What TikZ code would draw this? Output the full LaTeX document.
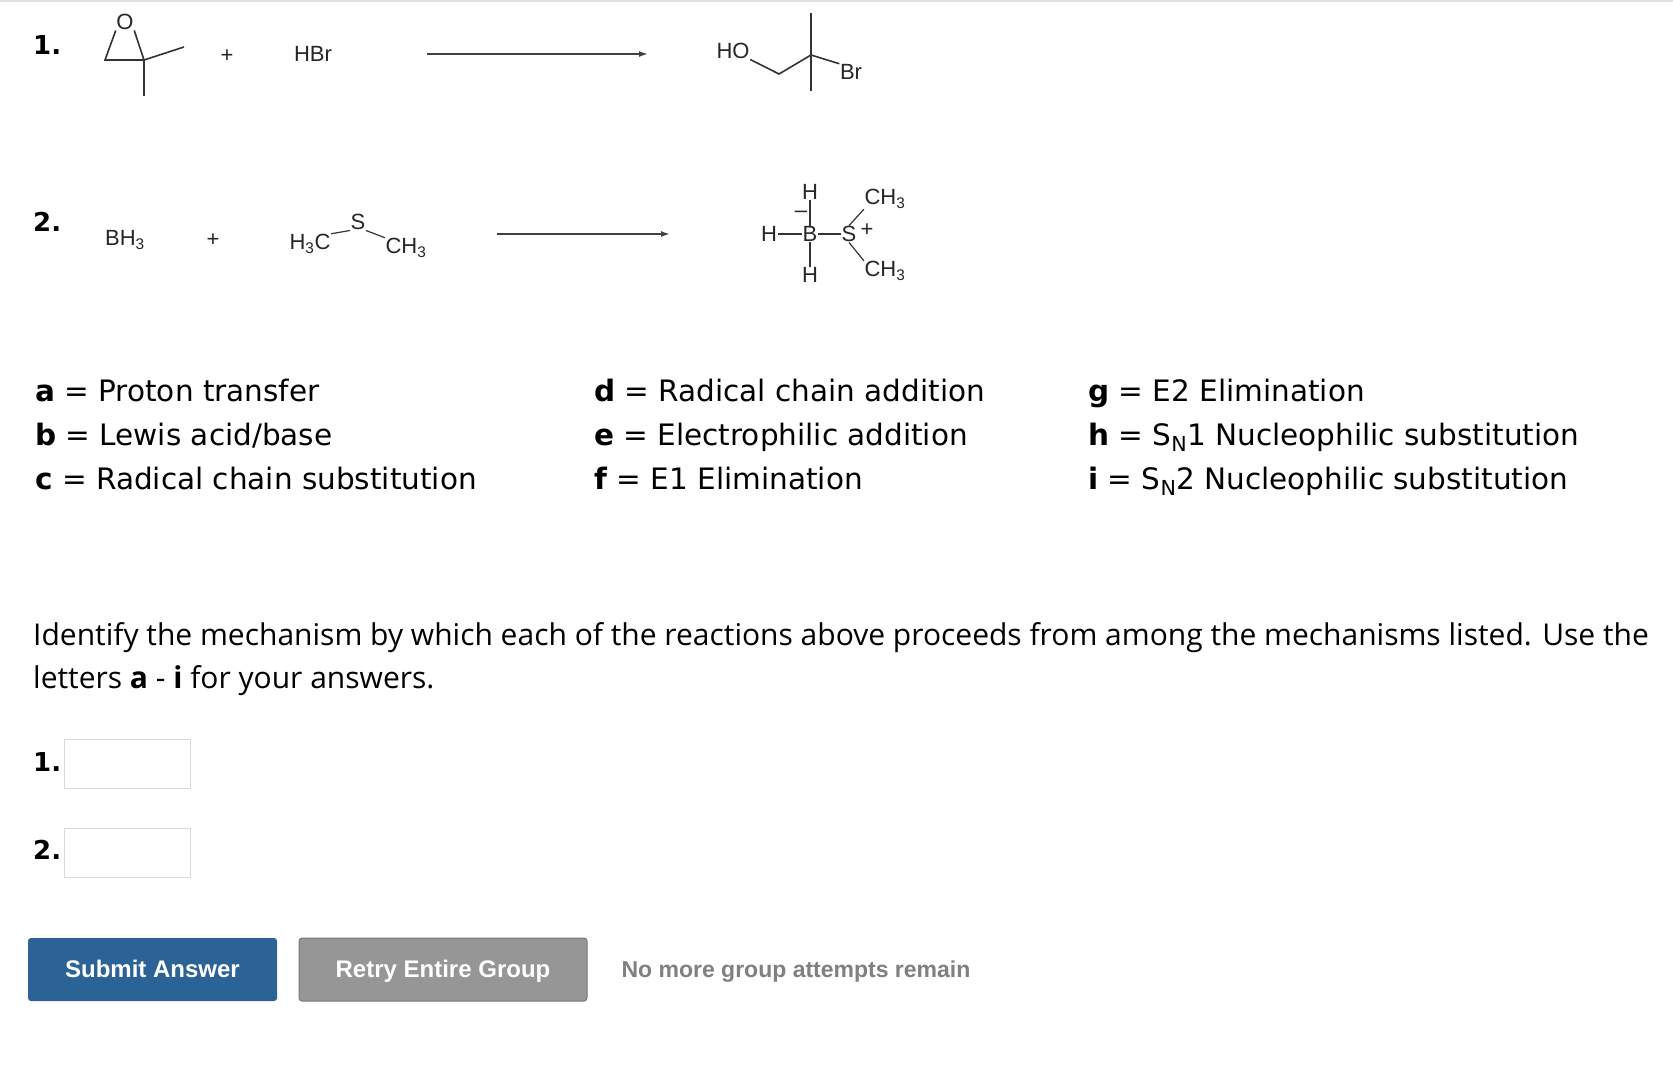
\documentclass[tikz,border=0pt]{standalone}
\usepackage{fontspec}
\usetikzlibrary{arrows.meta}
\setmainfont{Open Sans}
\newfontfamily\listf{DejaVu Sans}
\newfontfamily\chemf{Liberation Sans}
\newfontfamily\btnf{Liberation Sans}
\begin{document}
\begin{tikzpicture}[x=1pt,y=-1pt,
  chem/.style={font=\chemf\fontsize{22}{24}\selectfont,inner sep=0.5pt,text=black!85},
  bond/.style={line width=1.6pt,black!80},
  lst/.style={anchor=base west,inner sep=0,font=\listf\fontsize{29.5}{34}\selectfont},
  num/.style={anchor=base west,inner sep=0,font=\listf\bfseries\fontsize{26}{30}\selectfont},
  box/.style={draw=black!15,line width=1pt},
  rxn/.style={line width=1.6pt,black!75,-{Latex[length=9pt,width=6pt]}}]
\useasboundingbox (0,0) rectangle (1673,1072);
\fill[white] (0,0) rectangle (1673,1072);
\draw[black!12,line width=1.5pt] (0,1) -- (1673,1);
% reaction 1
\node[num] (n1) at (33,54) {1.};
\node[chem] (O1) at (125,22) {O};
\coordinate (e1) at (105,60); \coordinate (e2) at (144,60);
\draw[bond] (O1.south west) -- (e1) -- (e2) -- (O1.south east);
\coordinate (m1) at (184,47); \coordinate (m2) at (144,96);
\draw[bond] (e2) -- (m1); \draw[bond] (e2) -- (m2);
\node[chem] (p1) at (227,56) {+};
\node[chem] (hbr) at (313,54) {HBr};
\coordinate (a1s) at (427,54); \coordinate (a1e) at (648,54);
\draw[rxn] (a1s) -- (a1e);
\node[chem] (ho) at (733,51) {HO};
\coordinate (c1) at (779,74); \coordinate (c2) at (811,55);
\coordinate (t1) at (811,13); \coordinate (t2) at (811,91);
\node[chem] (br) at (851,72) {Br};
\draw[bond] (ho.south east) -- (c1) -- (c2) -- (br.north west);
\draw[bond] (t1) -- (t2);
% reaction 2
\node[num] (n2) at (33,231) {2.};
\node[chem] (bh3) at (125,240) {BH\textsubscript{3}};
\node[chem] (p2) at (213,240) {+};
\node[chem] (h3c) at (310,244) {H\textsubscript{3}C};
\node[chem] (s1) at (358,222) {S};
\node[chem] (ch3a) at (406,248) {CH\textsubscript{3}};
\draw[bond,line width=1.2pt] (h3c.north east) -- (s1.south west);
\draw[bond,line width=1.2pt] (s1.south east) -- (ch3a.north west);
\coordinate (a2s) at (497,234); \coordinate (a2e) at (670,234);
\draw[rxn] (a2s) -- (a2e);
\node[chem] (B) at (810,234) {B};
\node[chem] (Ht) at (810,192) {H};
\node[chem] (Hb) at (810,275) {H};
\node[chem] (Hl) at (769,234) {H};
\node[chem] (S2) at (849,234) {S};
\node[chem] (pl) at (867,230) {+};
\node[chem] (mi) at (801,214) {\textendash};
\node[chem] (ct) at (885,199) {CH\textsubscript{3}};
\node[chem] (cb) at (885,271) {CH\textsubscript{3}};
\draw[bond,line width=1.2pt] (B) -- (Ht); \draw[bond,line width=1.2pt] (B) -- (Hb);
\draw[bond,line width=1.2pt] (B) -- (Hl); \draw[bond,line width=1.2pt] (B) -- (S2);
\draw[bond,line width=1.2pt] (S2.north) -- (ct.south west);
\draw[bond,line width=1.2pt] (S2.south) -- (cb.north west);
% list
\node[lst] (la) at (35,401) {\textbf{a} = Proton transfer};
\node[lst] (lb) at (35,445) {\textbf{b} = Lewis acid/base};
\node[lst] (lc) at (35,489) {\textbf{c} = Radical chain substitution};
\node[lst] (ld) at (594,401) {\textbf{d} = Radical chain addition};
\node[lst] (le) at (594,445) {\textbf{e} = Electrophilic addition};
\node[lst] (lf) at (594,489) {\textbf{f} = E1 Elimination};
\node[lst] (lg) at (1088,401) {\textbf{g} = E2 Elimination};
\node[lst] (lh) at (1088,445) {\textbf{h} = S\textsubscript{N}1 Nucleophilic substitution};
\node[lst] (li) at (1088,489) {\textbf{i} = S\textsubscript{N}2 Nucleophilic substitution};
% paragraph
\node[anchor=base west,inner sep=0,font=\fontsize{30}{42}\selectfont] (q1) at (33,645) {Identify the mechanism by which each of the reactions above proceeds from among the mechanisms listed. Use the};
\node[anchor=base west,inner sep=0,font=\fontsize{30}{42}\selectfont] (q2) at (33,688) {letters \textbf{a} - \textbf{i} for your answers.};
% answers
\node[num] (r1) at (33,771) {1.};
\draw[box] (64,739) rectangle (190,788);
\node[num] (r2) at (33,859) {2.};
\draw[box] (64,828) rectangle (190,877);
% buttons
\fill[rounded corners=3pt,fill={rgb,255:red,43;green,99;blue,150}] (28,938) rectangle (277,1001);
\node[anchor=base,font=\btnf\bfseries\fontsize{24}{28}\selectfont,text=white] (sb) at (152.5,977) {Submit Answer};
\draw[rounded corners=3pt,fill={rgb,255:red,150;green,150;blue,150},draw={rgb,255:red,120;green,120;blue,120},line width=1pt] (299,938) rectangle (587,1001);
\node[anchor=base,font=\btnf\bfseries\fontsize{24}{28}\selectfont,text=white] (rb) at (443,977) {Retry Entire Group};
\node[anchor=base west,font=\btnf\bfseries\fontsize{23}{28}\selectfont,text=black!50] (nm) at (618,977) {No more group attempts remain};
\end{tikzpicture}
\end{document}
